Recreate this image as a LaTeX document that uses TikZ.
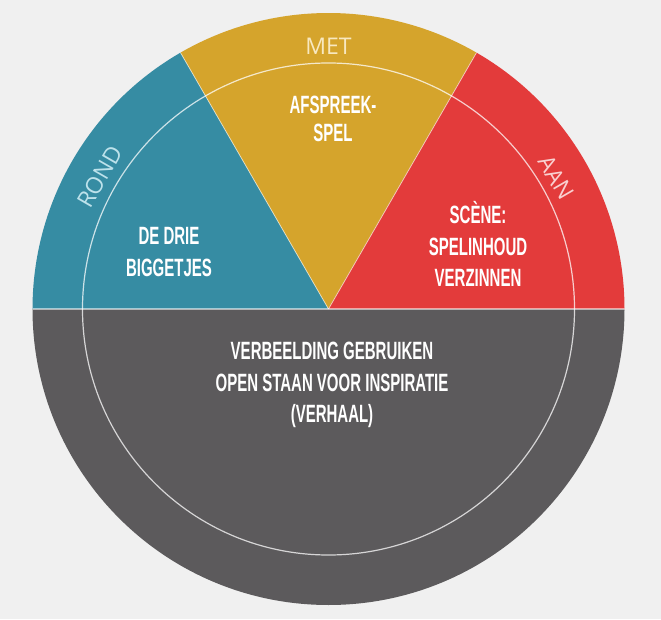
\documentclass[tikz,border=0pt]{standalone}
\usepackage{fontspec}
\newfontfamily\condfont[FakeStretch=0.6]{Liberation Sans}
\newfontfamily\thinfont{Open Sans}
\definecolor{bgc}{HTML}{F0F0F0}
\definecolor{bluec}{HTML}{368CA3}
\definecolor{yelc}{HTML}{D5A42C}
\definecolor{redc}{HTML}{E33B3B}
\definecolor{grayc}{HTML}{5C5A5C}
\definecolor{bluetxt}{HTML}{BDE2EB}
\definecolor{yeltxt}{HTML}{F8E8C0}
\definecolor{redtxt}{HTML}{F9D0D0}
\tikzset{
  mainlbl/.style={font={\condfont\bfseries\fontsize{25}{31.5}\selectfont}, align=center, text=white, inner sep=0pt},
  ringlbl/.style={font={\thinfont\fontsize{23}{28}\selectfont}, inner sep=0pt},
  divider/.style={draw=white, draw opacity=0.6, line width=0.8pt},
  ringline/.style={draw=white, draw opacity=0.75, line width=1.2pt},
}
\begin{document}
\begin{tikzpicture}[x=1pt,y=1pt]
\useasboundingbox (0,0) rectangle (661,619);
\fill[bgc] (0,0) rectangle (661,619);
\coordinate (C) at (328.5,310);
\coordinate (L) at ([shift={(180:296)}]C);
\coordinate (P120) at ([shift={(120:296)}]C);
\coordinate (P60) at ([shift={(60:296)}]C);
\coordinate (Rt) at ([shift={(0:296)}]C);
\fill[grayc] (L) arc[start angle=180,end angle=360,radius=296] -- cycle;
\fill[bluec] (C) -- (L) arc[start angle=180,end angle=120,radius=296] -- cycle;
\fill[yelc] (C) -- (P120) arc[start angle=120,end angle=60,radius=296] -- cycle;
\fill[redc] (C) -- (P60) arc[start angle=60,end angle=0,radius=296] -- cycle;
\draw[divider] (C) -- (P120);
\draw[divider] (C) -- (P60);
\draw[draw=white, draw opacity=0.55, line width=1.5pt] (L) -- (Rt);
\draw[ringline] (C) circle[radius=246];
% ring labels
\node[ringlbl, text=yeltxt] (met) at ([shift={(90:263)}]C) {MET};
\node[ringlbl, text=bluetxt, rotate=60] (rond) at ([shift={(150:264)}]C) {ROND};
\node[ringlbl, text=redtxt, rotate=-60] (aan) at ([shift={(30:263)}]C) {AAN};
% main labels
\node[mainlbl] (drie) at (169,367) {DE DRIE\\BIGGETJES};
\node[mainlbl, font={\condfont\bfseries\fontsize{25}{28.5}\selectfont}] (afspr) at (333,500) {AFSPREEK-\\SPEL};
\node[mainlbl] (scene) at (478,375) {SCÈNE:\\SPELINHOUD\\VERZINNEN};
\node[mainlbl] (verb) at (332,234) {VERBEELDING GEBRUIKEN\\OPEN STAAN VOOR INSPIRATIE\\(VERHAAL)};
\end{tikzpicture}
\end{document}
